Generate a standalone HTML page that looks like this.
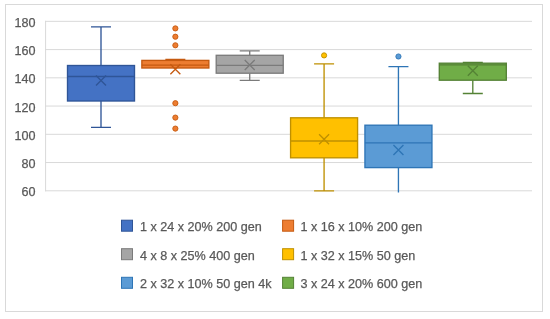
<!DOCTYPE html>
<html><head><meta charset="utf-8"><style>
html,body{margin:0;padding:0;background:#fff;width:550px;height:319px;overflow:hidden}
svg{display:block}
text{font-family:"Liberation Sans", Arial, sans-serif;font-size:12.6px;fill:#595959;stroke:#595959;stroke-width:0.25px;}
</style></head><body>
<svg width="550" height="319" viewBox="0 0 550 319">
<rect x="0" y="0" width="550" height="319" fill="#fff"/>
<rect x="5.5" y="4.5" width="537" height="307" fill="#fff" stroke="#D9D9D9" stroke-width="1"/>
<line x1="45" y1="21.33" x2="532" y2="21.33" stroke="#D9D9D9" stroke-width="1"/>
<line x1="45" y1="49.58" x2="532" y2="49.58" stroke="#D9D9D9" stroke-width="1"/>
<line x1="45" y1="77.82" x2="532" y2="77.82" stroke="#D9D9D9" stroke-width="1"/>
<line x1="45" y1="106.06" x2="532" y2="106.06" stroke="#D9D9D9" stroke-width="1"/>
<line x1="45" y1="134.31" x2="532" y2="134.31" stroke="#D9D9D9" stroke-width="1"/>
<line x1="45" y1="162.56" x2="532" y2="162.56" stroke="#D9D9D9" stroke-width="1"/>
<line x1="45" y1="190.80" x2="532" y2="190.80" stroke="#D9D9D9" stroke-width="1"/>
<line x1="45.6" y1="20.83" x2="45.6" y2="191.30" stroke="#D9D9D9" stroke-width="1"/>
<text x="35.4" y="26.7" text-anchor="end">180</text>
<text x="35.4" y="55.0" text-anchor="end">160</text>
<text x="35.4" y="83.2" text-anchor="end">140</text>
<text x="35.4" y="111.5" text-anchor="end">120</text>
<text x="35.4" y="139.7" text-anchor="end">100</text>
<text x="35.4" y="168.0" text-anchor="end">80</text>
<text x="35.4" y="196.2" text-anchor="end">60</text>
<defs><clipPath id="pa"><rect x="46" y="0" width="486" height="192.6"/></clipPath></defs>
<g clip-path="url(#pa)">
<g stroke="#2F5597" stroke-width="1.35" fill="none">
<path d="M101.0 26.9V65.5M91.0 26.9H111.0"/>
<path d="M101.0 101.0V127.35M91.0 127.35H111.0"/>
<rect x="67.50" y="65.5" width="67.0" height="35.50" fill="#4472C4"/>
<path d="M67.50 76.5H134.50"/>
<path d="M96.0 75.4L106.0 85.4M106.0 75.4L96.0 85.4"/>
</g>
<g stroke="#C55A11" stroke-width="1.35" fill="none">
<path d="M175.36 59.3V60.4M165.36 59.3H185.36"/>
<rect x="141.86" y="60.4" width="67.0" height="7.60" fill="#ED7D31"/>
<path d="M141.86 65.1H208.86"/>
<path d="M170.36 64.3L180.36 74.3M180.36 64.3L170.36 74.3"/>
<circle cx="175.36" cy="28.4" r="2.6" fill="#ED7D31" stroke-width="0.9"/>
<circle cx="175.36" cy="36.7" r="2.6" fill="#ED7D31" stroke-width="0.9"/>
<circle cx="175.36" cy="45.3" r="2.6" fill="#ED7D31" stroke-width="0.9"/>
<circle cx="175.36" cy="103.2" r="2.6" fill="#ED7D31" stroke-width="0.9"/>
<circle cx="175.36" cy="117.6" r="2.6" fill="#ED7D31" stroke-width="0.9"/>
<circle cx="175.36" cy="128.6" r="2.6" fill="#ED7D31" stroke-width="0.9"/>
</g>
<g stroke="#7B7B7B" stroke-width="1.35" fill="none">
<path d="M249.72 50.9V55.3M239.72 50.9H259.72"/>
<path d="M249.72 73.2V80.3M239.72 80.3H259.72"/>
<rect x="216.22" y="55.3" width="67.0" height="17.90" fill="#A5A5A5"/>
<path d="M216.22 65.4H283.22"/>
<path d="M244.72 59.900000000000006L254.72 69.9M254.72 59.900000000000006L244.72 69.9"/>
</g>
<g stroke="#BF9000" stroke-width="1.35" fill="none">
<path d="M324.08 63.8V117.8M314.08 63.8H334.08"/>
<path d="M324.08 157.8V190.8M314.08 190.8H334.08"/>
<rect x="290.58" y="117.8" width="67.0" height="40.00" fill="#FFC000"/>
<path d="M290.58 141.0H357.58"/>
<path d="M319.08 134.3L329.08 144.3M329.08 134.3L319.08 144.3"/>
<circle cx="324.08" cy="55.4" r="2.6" fill="#FFC000" stroke-width="0.9"/>
</g>
<g stroke="#2E75B6" stroke-width="1.35" fill="none">
<path d="M398.44 66.6V125.2M388.44 66.6H408.44"/>
<path d="M398.44 167.6V200M388.44 200H408.44"/>
<rect x="364.94" y="125.2" width="67.0" height="42.40" fill="#5B9BD5"/>
<path d="M364.94 142.8H431.94"/>
<path d="M393.44 145.1L403.44 155.1M403.44 145.1L393.44 155.1"/>
<circle cx="398.44" cy="56.5" r="2.6" fill="#5B9BD5" stroke-width="0.9"/>
</g>
<g stroke="#548235" stroke-width="1.35" fill="none">
<path d="M472.8 62.3V63.2M462.8 62.3H482.8"/>
<path d="M472.8 80.2V93.5M462.8 93.5H482.8"/>
<rect x="439.30" y="63.2" width="67.0" height="17.00" fill="#70AD47"/>
<path d="M439.30 64.9H506.30"/>
<path d="M467.8 65.8L477.8 75.8M477.8 65.8L467.8 75.8"/>
</g>
</g>
<rect x="121.5" y="220.2" width="11" height="11" fill="#4472C4" stroke="#2F5597" stroke-width="1"/>
<text x="140.0" y="231.2">1 x 24 x 20% 200 gen</text>
<rect x="282.6" y="220.2" width="11" height="11" fill="#ED7D31" stroke="#C55A11" stroke-width="1"/>
<text x="300.4" y="231.2">1 x 16 x 10% 200 gen</text>
<rect x="121.5" y="248.7" width="11" height="11" fill="#A5A5A5" stroke="#7B7B7B" stroke-width="1"/>
<text x="140.0" y="259.7">4 x 8 x 25% 400 gen</text>
<rect x="282.6" y="248.7" width="11" height="11" fill="#FFC000" stroke="#BF9000" stroke-width="1"/>
<text x="300.4" y="259.7">1 x 32 x 15% 50 gen</text>
<rect x="121.5" y="277.3" width="11" height="11" fill="#5B9BD5" stroke="#2E75B6" stroke-width="1"/>
<text x="140.0" y="288.3">2 x 32 x 10% 50 gen 4k</text>
<rect x="282.6" y="277.3" width="11" height="11" fill="#70AD47" stroke="#548235" stroke-width="1"/>
<text x="300.4" y="288.3">3 x 24 x 20% 600 gen</text>
</svg>
</body></html>
